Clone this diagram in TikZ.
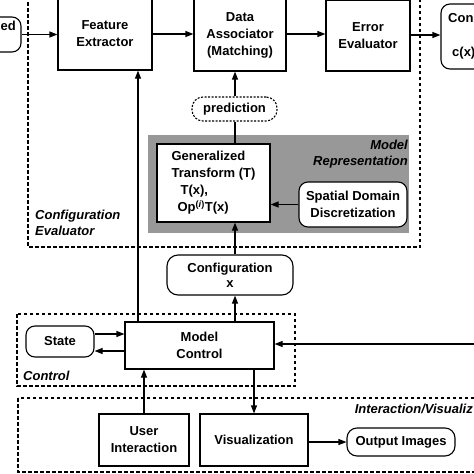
\documentclass[tikz,border=0pt]{standalone}
\usepackage{fontspec}
\setmainfont{Liberation Sans}
\usetikzlibrary{arrows.meta,calc}
\definecolor{repgray}{RGB}{152,152,152}
\tikzset{
  box/.style={draw, line width=1.1pt, fill=white, inner sep=1pt, align=center},
  rbox/.style={box, rounded corners=9pt},
  lbl/.style={inner sep=0pt, font=\fontsize{13}{16}\selectfont\bfseries\itshape},
  txt/.style={inner sep=0pt, font=\fontsize{13}{17}\selectfont\bfseries},
  arr/.style={line width=1.1pt, -{Triangle[length=8pt,width=6pt]}},
  ln/.style={line width=1.1pt},
  grp/.style={line width=1.1pt, dash pattern=on 3.5pt off 2.5pt},
}
\begin{document}
\begin{tikzpicture}[x=1pt,y=-1pt, font=\fontsize{13}{17}\selectfont\bfseries]
\useasboundingbox (0,0) rectangle (474,474);
\clip (0,0) rectangle (474,474);
\fill[white] (0,0) rectangle (474,474);

% group frames
\draw[grp] (28,-10) -- (28,247) -- (420,247) -- (420,-10);
\draw[grp] (17,314) rectangle (295,386);
\draw[grp] (18,398) rectangle (490,472);
\fill[repgray] (148,135) rectangle (409,233);
\fill[repgray] (326,-6) rectangle (410,1);

% top row
\node[box, minimum width=94pt, minimum height=72pt] (fe) at (105,34) {Feature\\Extractor};
\node[box, minimum width=92pt, minimum height=72pt] (da) at (240,35) {Data\\Associator\\(Matching)};
\node[box, minimum width=84pt, minimum height=71pt] (ee) at (368,35.5) {Error\\Evaluator};
\node[rbox, minimum width=62pt, minimum height=35pt] (src) at (-10,34.5) {};
\node[txt, anchor=west] (srct) at (0.5,26) {ed};
\node[rbox, minimum width=78pt, minimum height=65pt] (cost) at (480,36.5) {};
\node[txt, anchor=west] (costa) at (448,18) {Con};
\node[txt, anchor=west] (costb) at (452,53) {c(x)};

% prediction
\node[rbox, dash pattern=on 2pt off 1.5pt, rounded corners=11pt, minimum width=85pt, minimum height=24pt] (pred) at (234.5,109) {prediction};

% model representation
\node[box, minimum width=113pt, minimum height=78pt, align=left] (gt) at (213.5,183)
  {Generalized\\Transform (T)\\\hspace*{9pt}T(x),\\\hspace*{6pt}Op\textsuperscript{(\textit{i})}T(x)};
\node[rbox, minimum width=108pt, minimum height=45pt] (sdd) at (353,204.5) {Spatial Domain\\Discretization};
\node[lbl, align=right, anchor=north east] (mrl) at (408,140) {Model\\Representation};
\node[lbl, align=left, anchor=north west] (cel) at (35,210) {Configuration\\Evaluator};

% configuration
\node[rbox, minimum width=126pt, minimum height=40pt, rounded corners=11pt] (cfg) at (230,275) {Configuration\\[-2pt]x};

% control
\node[box, minimum width=149pt, minimum height=47pt] (mc) at (199.5,345.5) {Model\\Control};
\node[rbox, minimum width=68pt, minimum height=31pt] (st) at (60,341.5) {State};
\node[lbl, anchor=west] (ctl) at (23,376) {Control};

% interaction / visualization
\node[box, minimum width=90pt, minimum height=52pt] (ui) at (144,440) {User\\Interaction};
\node[box, minimum width=108pt, minimum height=52pt] (vis) at (254,440) {Visualization};
\node[rbox, minimum width=108pt, minimum height=28pt, rounded corners=10pt] (out) at (401,442) {Output Images};
\node[lbl, anchor=east] (ivl) at (473,409) {Interaction/Visualiz};

% helper coordinates
\coordinate (cx) at (235,0);
\coordinate (fx) at (138,0);
\coordinate (rin) at (490,344);

% connectors
\draw[arr] (src.east) -- (src.east -| fe.west);
\draw[arr] (fe.east |- 0,34) -- (da.west |- 0,34);
\draw[arr] (da.east |- 0,34) -- (ee.west |- 0,34);
\draw[arr] (ee.east |- 0,35) -- (cost.west |- 0,35);
\draw[arr] (cx |- pred.north) -- (cx |- da.south);
\draw[ln] (cx |- gt.north) -- (cx |- pred.south);
\draw[arr] (sdd.west) -- (sdd.west -| gt.east);
\draw[arr] (cx |- cfg.north) -- (cx |- gt.south);
\draw[arr] (cx |- mc.north) -- (cx |- cfg.south);
\draw[arr] (fx |- mc.north) -- (fx |- fe.south);
\draw[arr] ([yshift=7.5pt]st.east) -- ([yshift=7.5pt]st.east -| mc.west);
\draw[arr] ([yshift=-5.5pt]mc.west) -- ([yshift=-5.5pt]mc.west -| st.east);
\draw[arr] (rin) -- (rin -| mc.east);
\draw[arr] (ui.north) -- (ui.north |- mc.south);
\draw[arr] (vis.north |- mc.south) -- (vis.north);
\draw[arr] (vis.east |- out.west) -- (out.west);
\end{tikzpicture}
\end{document}
